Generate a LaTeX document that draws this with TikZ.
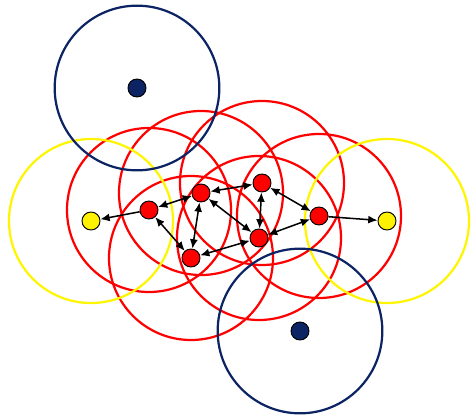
\documentclass[tikz,border=0pt]{standalone}
\usepackage{tikz}
\usetikzlibrary{arrows.meta,backgrounds}
\definecolor{navy}{RGB}{12,36,100}
\definecolor{ylw}{RGB}{255,245,0}
\tikzset{dot/.style={circle,draw=black,line width=0.8pt,minimum size=5.4mm,inner sep=0pt}}
\tikzset{rnode/.style={dot,fill=red}}
\tikzset{ynode/.style={dot,fill=yellow}}
\tikzset{bnode/.style={dot,fill=navy}}
\tikzset{rng/.style={line width=1.9pt}}
\tikzset{link/.style={<->,>={Latex[length=2.8mm,width=2.4mm]},line width=1.3pt}}

\begin{document}
\begin{tikzpicture}[x=0.03cm,y=-0.03cm]
\useasboundingbox (0,0) rectangle (474,420);
\node[bnode](b1) at (137,88) {};
\node[bnode](b2) at (300,331) {};
\node[ynode](y1) at (91,221) {};
\node[ynode](y2) at (387,221) {};
\node[rnode](r1) at (149,210) {};
\node[rnode](r2) at (201,193) {};
\node[rnode](r3) at (262,183) {};
\node[rnode](r4) at (319,216) {};
\node[rnode](r5) at (259,238) {};
\node[rnode](r6) at (191,258) {};

\begin{scope}[on background layer]
\foreach \n in {r1,r2,r3,r4,r5,r6}
  \draw[rng,red] (\n) circle (2.46cm);
\foreach \n in {y1,y2}
  \draw[rng,ylw] (\n) circle (2.46cm);
\foreach \n in {b1,b2}
  \draw[rng,navy] (\n) circle (2.47cm);
\end{scope}

\foreach \s/\t in {r1/r2,r1/r6,r2/r3,r2/r6,r2/r5,r3/r5,r3/r4,r4/r5,r6/r5}
  \draw[link] (\s) -- (\t);
\draw[link,<-] (y1) -- (r1);
\draw[link,->] (r4) -- (y2);
\end{tikzpicture}
\end{document}
